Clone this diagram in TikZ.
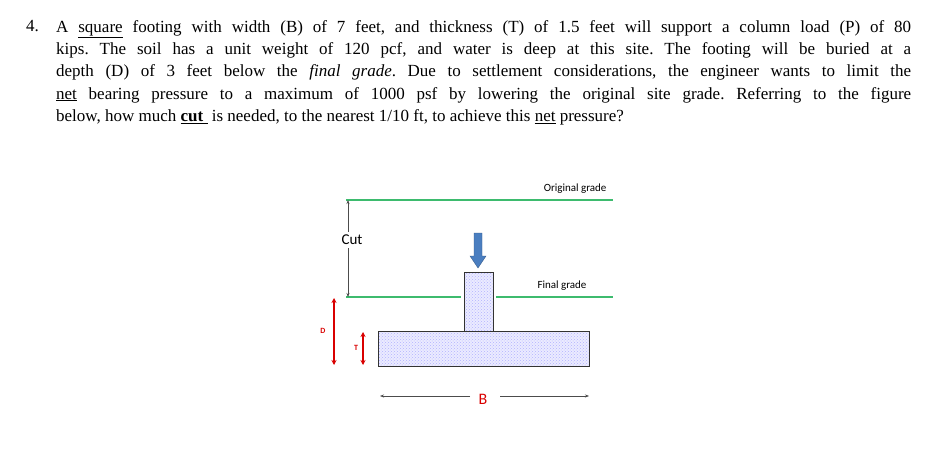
\documentclass[tikz,border=0pt]{standalone}
\usepackage{fontspec}
\setmainfont{Liberation Serif}
\newfontfamily\calfont{Carlito}
\usetikzlibrary{arrows.meta,patterns}
\definecolor{gradec}{HTML}{3DBB6E}
\definecolor{loadc}{HTML}{4A7EC0}
\begin{document}
\begin{tikzpicture}[x=1pt,y=-1pt,
  grade/.style={draw=gradec, line width=1.2pt},
  dim/.style={draw=black!70, line width=0.5pt, -{Stealth[length=4pt,width=3pt]}},
  reddim/.style={draw=red!85!black, line width=1.2pt, {Stealth[length=5pt,width=5pt]}-{Stealth[length=5pt,width=5pt]}},
  lab/.style={font=\calfont\fontsize{11}{13}\selectfont}]
\useasboundingbox (0,0) rectangle (945,476);
\node[anchor=north west, inner sep=0] (num) at (26,20) {\fontsize{17}{22}\selectfont 4.};
\node[anchor=north west, inner sep=0, text width=855pt, align=justify] (txt) at (56,20) {\fontsize{17}{22.3}\selectfont\frenchspacing
A \underline{square} footing with width (B) of 7 feet, and thickness (T) of 1.5 feet will support a column load (P) of 80\linebreak
kips. The soil has a unit weight of 120 pcf, and water is deep at this site. The footing will be buried at a\linebreak
depth (D) of 3 feet below the \textit{final grade}. Due to settlement considerations, the engineer wants to limit the\linebreak
\underline{net} bearing pressure to a maximum of 1000 psf by lowering the original site grade. Referring to the figure\linebreak
below, how much \underline{\textbf{cut} } is needed, to the nearest 1/10 ft, to achieve this \underline{net} pressure?\par};
% grades
\coordinate (og1) at (346,200); \coordinate (og2) at (613,200);
\draw[grade] (og1) -- (og2);
\coordinate (fg1) at (346,297); \coordinate (fg2) at (613,297);
\draw[grade] (fg1) -- (461,297); \draw[grade] (496,297) -- (fg2);
\node[lab, anchor=south east] (ogl) at (610,197) {Original grade};
\node[lab, anchor=south east] (fgl) at (590,294) {Final grade};
% footing
\fill[blue!8] (378,331) rectangle (589,366) (464,272) rectangle (493,331);
\path[pattern=crosshatch dots, pattern color=blue!30] (378,331) rectangle (589,366) (464,272) rectangle (493,331);
\draw[black!80, line width=0.8pt] (378,331) rectangle (589,366) (464,272) rectangle (493,331);
% load arrow
\fill[loadc, draw=loadc!70!black, line width=0.4pt] (474,233) -- (482,233) -- (482,256) -- (486,256) -- (478,268) -- (470,256) -- (474,256) -- cycle;
% cut
\node[font=\calfont\fontsize{15}{17}\selectfont] (cut) at (352,240) {Cut};
\draw[dim] (cut.north -| 348,0) -- (og1 -| 348,0);
\draw[dim] (cut.south -| 348,0) -- (fg1 -| 348,0);
% D, T
\draw[reddim] (334,298) -- (334,365);
\node[text=red!85!black, font=\calfont\fontsize{8}{9}\selectfont\bfseries] (D) at (323,331) {D};
\draw[reddim] (363,332) -- (363,365);
\node[text=red!85!black, font=\calfont\fontsize{8}{9}\selectfont\bfseries] (T) at (356,348) {T};
% B
\node[text=red!85!black, font=\calfont\fontsize{16}{18}\selectfont] (B) at (483,399) {B};
\draw[dim] (470,396) -- (380,396);
\draw[dim] (500,396) -- (589,396);
\end{tikzpicture}
\end{document}
